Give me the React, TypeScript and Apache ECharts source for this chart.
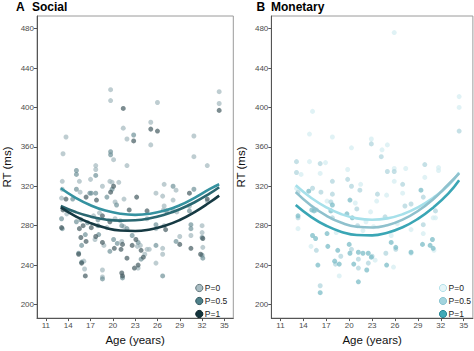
import React, { useEffect, useRef } from "react";
import * as echarts from "echarts";

const xTicks = [11, 14, 17, 20, 23, 26, 29, 32, 35];
const yTicks = [200, 240, 280, 320, 360, 400, 440, 480];
const legendLabels = ["P=0", "P=0.5", "P=1"];

// Panel A (Social) scatter: [age, RT]
const socialP0: number[][] = [
  [19.7, 418], [19.7, 407], [21.4, 379], [21.9, 368], [13.7, 370], [13.3, 353], [20.1, 347], [21.9, 341],
  [17.7, 341], [17.7, 337], [17.0, 327], [15.5, 325], [13.2, 325], [19.6, 325], [19.9, 324], [20.8, 324],
  [15.6, 314], [13.2, 317], [13.1, 308], [18.6, 320], [20.3, 304], [21.5, 307], [13.8, 292], [17.4, 290],
  [18.2, 293], [19.2, 278], [20.3, 287], [21.0, 285], [21.5, 279], [17.6, 266], [18.8, 260], [21.2, 264],
  [16.1, 244], [16.2, 236], [18.6, 235], [18.6, 228],
  [26.0, 405], [25.1, 385], [25.1, 362], [34.3, 416], [34.3, 404], [30.9, 371], [30.9, 350], [32.7, 341],
  [26.9, 322], [28.5, 316], [25.8, 313], [26.7, 310], [28.1, 306], [26.9, 300], [26.8, 296], [28.1, 295],
  [28.6, 294], [30.3, 300], [32.7, 305], [24.6, 287], [25.8, 277], [26.9, 280], [32.0, 280], [32.0, 273],
  [30.5, 270], [29.0, 269], [32.1, 258], [26.7, 257], [26.7, 251], [25.8, 242], [23.7, 260], [23.3, 259],
  [24.3, 251], [23.4, 237], [24.6, 256], [24.9, 256],
];
const socialP05: number[][] = [
  [15.1, 336], [15.1, 332], [17.7, 331], [19.7, 355], [19.7, 352], [15.1, 317], [14.6, 307], [16.9, 313],
  [17.1, 313], [17.7, 313], [19.2, 309], [20.5, 301], [19.9, 317], [13.1, 287], [15.1, 284], [15.7, 286],
  [16.6, 283], [18.0, 286], [18.0, 280], [21.2, 280], [21.9, 277], [16.3, 271], [18.1, 271], [20.1, 266],
  [20.6, 262], [19.6, 254], [15.8, 260], [15.4, 252], [15.8, 243], [18.6, 226], [21.3, 227], [13.2, 277],
  [22.8, 372], [28.1, 320], [30.9, 317], [27.2, 295], [30.3, 295], [25.8, 281], [30.5, 281], [30.5, 277],
  [32.0, 268], [28.5, 264], [32.0, 250], [32.1, 247], [25.8, 260], [26.7, 229], [22.6, 270], [23.4, 263],
  [23.8, 246],
];
const socialP1: number[][] = [
  [21.4, 399], [20.1, 320], [13.7, 307], [16.4, 309], [17.8, 306], [19.7, 314], [22.2, 296], [13.1, 278],
  [15.5, 277], [16.0, 280], [17.1, 278], [18.6, 290], [19.6, 284], [15.7, 268], [17.7, 269], [18.6, 263],
  [21.3, 261], [21.1, 256], [20.2, 257], [15.4, 251], [15.8, 242], [16.3, 229], [21.2, 232], [21.3, 229],
  [21.9, 247], [16.4, 264], [13.3, 296],
  [25.1, 378], [26.0, 376], [22.8, 366], [34.3, 397], [30.3, 313], [23.2, 309], [24.6, 295], [32.7, 307],
  [27.1, 276], [32.1, 267], [29.0, 261], [30.5, 257], [31.8, 251], [23.1, 266], [23.8, 255], [24.1, 248],
  [23.4, 240], [22.9, 237], [22.6, 260],
];

// Panel B (Monetary) scatter: [age, RT]
const monetaryP0: number[][] = [
  [15.2, 396], [14.8, 373], [17.8, 370], [20.3, 359], [13.7, 332], [14.8, 345], [16.2, 333], [16.9, 344],
  [19.8, 337], [21.5, 322], [13.1, 318], [17.1, 305], [20.8, 303], [13.3, 277], [21.8, 275], [18.3, 273],
  [15.0, 259], [18.7, 229], [25.9, 476],
  [34.4, 411], [34.4, 400], [25.0, 362], [24.3, 357], [22.9, 368], [25.9, 338], [27.4, 338], [25.9, 325],
  [29.9, 329], [31.7, 336], [31.7, 339], [23.6, 305], [24.9, 311], [27.0, 313], [31.0, 288], [31.3, 288],
  [22.8, 294], [22.2, 284], [23.2, 279], [26.3, 282], [28.1, 276], [29.7, 272], [31.1, 255], [25.5, 270],
  [28.1, 252], [25.8, 238], [23.4, 245],
];
const monetaryP05: number[][] = [
  [13.1, 345], [13.1, 334], [16.2, 343], [17.8, 325], [19.8, 327], [20.3, 320], [21.4, 316], [13.3, 314],
  [15.2, 318], [16.3, 314], [17.8, 312], [17.6, 304], [21.0, 297], [13.3, 288], [15.7, 296], [17.8, 288],
  [21.1, 280], [15.7, 255], [20.3, 256], [18.9, 249], [21.2, 246], [18.2, 241], [21.2, 237], [16.2, 219],
  [34.4, 376], [24.2, 350], [22.9, 363], [25.0, 335], [25.9, 335], [27.0, 322], [29.9, 342], [29.7, 309],
  [23.7, 312], [28.1, 302], [27.3, 300], [31.3, 295], [24.7, 289], [29.7, 281], [26.1, 256], [24.8, 252],
  [23.0, 249], [22.5, 242],
];
const monetaryP1: number[][] = [
  [14.7, 315], [17.8, 301], [20.1, 306], [13.3, 290], [15.1, 296], [15.4, 295], [17.6, 295], [19.7, 292],
  [20.4, 288], [17.1, 272], [15.2, 270], [15.6, 267], [17.2, 259], [18.5, 255], [20.0, 261], [20.1, 252],
  [21.2, 253], [21.8, 252], [20.6, 241], [15.9, 240], [18.1, 244], [18.7, 241], [21.2, 223], [16.2, 212],
  [29.4, 316], [29.6, 261], [30.9, 266], [31.0, 257], [25.5, 263], [26.1, 258], [28.1, 253], [24.9, 240],
  [22.9, 248], [22.3, 235], [22.5, 252], [30.6, 260],
];

// Fitted curves
const fitAgesA = [13, 15, 17, 19, 21, 23, 25, 27, 29, 31, 33, 34.3];
const socialFitTop = [318, 308.3, 300.7, 295.3, 292.1, 291, 292.1, 295.3, 300.7, 308.3, 317, 322];
const socialFitMid = [300, 293.8, 289.2, 286.3, 285.1, 285.5, 287.5, 291.3, 296.7, 303.8, 312.5, 319];
const socialFitLow = [298.5, 289.5, 282.6, 277.8, 275.1, 274.6, 276.2, 279.9, 285.8, 293.8, 303.5, 310.5];

const fitAgesB = [13, 15, 17, 19, 21, 23, 25, 27, 29, 31, 33, 34.4];
const monetaryFitTop = [321, 308.4, 298.6, 291.6, 287.4, 286, 287.4, 291.6, 298.6, 308.4, 321, 334];
const monetaryFitMid = [314, 300.5, 290.1, 282.9, 278.9, 278.1, 280.5, 286.1, 294.9, 306.9, 322, 333];
const monetaryFitLow = [301, 289, 279.9, 273.7, 270.5, 270.2, 272.9, 278.4, 286.9, 298.3, 312.7, 326];

const FONT = "'Liberation Sans', Arial, sans-serif";

const pair = (xs: number[], ys: number[]) => xs.map((x, i) => [x, ys[i]]);

export default function App() {
  const ref = useRef<HTMLDivElement>(null);
  useEffect(() => {
    if (!ref.current) return;
    const chart = echarts.init(ref.current, undefined, { renderer: "svg" });

    const grids = [
      { left: 31.7, top: 16, width: 201.6, height: 311 },
      { left: 271.3, top: 16, width: 201.6, height: 311 },
    ];

    const xAxisCfg = (gi: number) => ({
      gridIndex: gi,
      type: "value",
      min: 9.8,
      max: 36.2,
      name: "Age (years)",
      nameLocation: "middle",
      nameGap: 15,
      nameTextStyle: { fontSize: 11.5, color: "#111", fontFamily: FONT },
      axisLine: { show: true, lineStyle: { color: "#555", width: 1 } },
      axisTick: { show: true, length: 3, customValues: xTicks, lineStyle: { color: "#555" } },
      axisLabel: { customValues: xTicks, fontSize: 8, color: "#4d4d4d", margin: 3, fontFamily: FONT },
      splitLine: { show: false },
    });
    const yAxisCfg = (gi: number) => ({
      gridIndex: gi,
      type: "value",
      min: 186.2,
      max: 492.8,
      name: "RT (ms)",
      nameLocation: "middle",
      nameGap: 24,
      nameTextStyle: { fontSize: 11.5, color: "#111", fontFamily: FONT },
      axisLine: { show: true, lineStyle: { color: "#555", width: 1 } },
      axisTick: { show: true, length: 3, customValues: yTicks, lineStyle: { color: "#555" } },
      axisLabel: { customValues: yTicks, fontSize: 8, color: "#4d4d4d", margin: 3, fontFamily: FONT },
      splitLine: { show: false },
    });

    const scatter = (gi: number, name: string, data: number[][], color: string, opacity: number) => ({
      type: "scatter",
      name,
      xAxisIndex: gi,
      yAxisIndex: gi,
      data,
      symbolSize: 5,
      itemStyle: { color, opacity },
      z: 2,
    });
    const fit = (gi: number, name: string, data: number[][], color: string) => ({
      type: "line",
      name,
      xAxisIndex: gi,
      yAxisIndex: gi,
      data,
      smooth: true,
      showSymbol: false,
      symbol: "none",
      lineStyle: { color, width: 2.6 },
      z: 3,
    });

    const legendColorsA = [
      { fill: "#a9bdc3", stroke: "#5f747a" },
      { fill: "#4f818a", stroke: "#2e535b" },
      { fill: "#13343c", stroke: "#0a2127" },
    ];
    const legendColorsB = [
      { fill: "#e6f6f9", stroke: "#b5e2ea" },
      { fill: "#a3d4de", stroke: "#8cc6d2" },
      { fill: "#41aab8", stroke: "#2c8a97" },
    ];
    const legendRows = [288, 301, 314];
    const legendGraphics = (cx: number, colors: { fill: string; stroke: string }[]) =>
      legendRows.flatMap((y, i) => [
        {
          type: "circle",
          shape: { cx, cy: y, r: 3.6 },
          style: { fill: colors[i].fill, stroke: colors[i].stroke, lineWidth: 1 },
        },
        {
          type: "text",
          x: cx + 5.5,
          y,
          style: {
            text: legendLabels[i],
            fontSize: 8.5,
            fill: "#222",
            fontFamily: FONT,
            verticalAlign: "middle",
            align: "left",
          },
        },
      ]);

    const title = (x: number, letter: string, label: string, lx: number) => [
      {
        type: "text",
        x,
        y: 7,
        style: { text: letter, fontSize: 12, fontWeight: "bold", fill: "#000", fontFamily: FONT, verticalAlign: "middle" },
      },
      {
        type: "text",
        x: lx,
        y: 7,
        style: { text: label, fontSize: 12, fontWeight: "bold", fill: "#000", fontFamily: FONT, verticalAlign: "middle" },
      },
    ];

    chart.setOption({
      animation: false,
      backgroundColor: "#ffffff",
      grid: grids.map((g) => ({ ...g, show: true, borderColor: "#9a9a9a", borderWidth: 1, containLabel: false })),
      xAxis: [xAxisCfg(0), xAxisCfg(1)],
      yAxis: [yAxisCfg(0), yAxisCfg(1)],
      series: [
        scatter(0, "Social P=0", socialP0, "#a3b8be", 0.7),
        scatter(0, "Social P=0.5", socialP05, "#6f9199", 0.7),
        scatter(0, "Social P=1", socialP1, "#455b61", 0.7),
        scatter(1, "Monetary P=0", monetaryP0, "#d3ecf1", 0.7),
        scatter(1, "Monetary P=0.5", monetaryP05, "#acd3dc", 0.7),
        scatter(1, "Monetary P=1", monetaryP1, "#7bbcc7", 0.75),
        fit(0, "Social fit top", pair(fitAgesA, socialFitTop), "#3592a0"),
        fit(0, "Social fit mid", pair(fitAgesA, socialFitMid), "#2a6771"),
        fit(0, "Social fit low", pair(fitAgesA, socialFitLow), "#163a43"),
        fit(1, "Monetary fit top", pair(fitAgesB, monetaryFitTop), "#a6e0ea"),
        fit(1, "Monetary fit mid", pair(fitAgesB, monetaryFitMid), "#8fc1cd"),
        fit(1, "Monetary fit low", pair(fitAgesB, monetaryFitLow), "#3aa6b5"),
      ],
      graphic: [
        ...title(16, "A", "Social", 32),
        ...title(256.5, "B", "Monetary", 271),
        ...legendGraphics(199.3, legendColorsA),
        ...legendGraphics(443, legendColorsB),
      ],
    });

    return () => chart.dispose();
  }, []);

  return (
    <div
      ref={ref}
      style={{ position: "absolute", left: 0, top: 0, width: 474, height: 351 }}
    />
  );
}
